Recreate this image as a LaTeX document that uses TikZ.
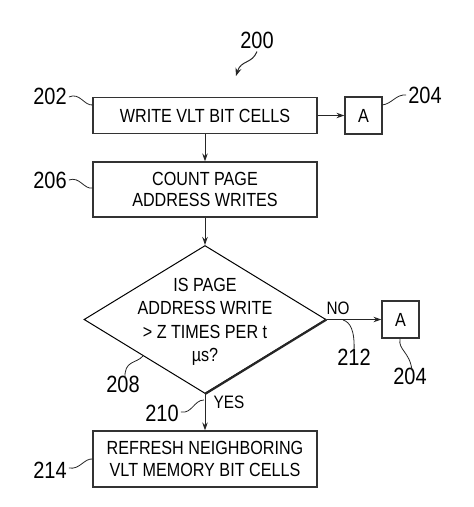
\documentclass[tikz,border=0pt]{standalone}
\usepackage{fontspec}
\setmainfont[FakeStretch=0.85]{Liberation Sans}
\usetikzlibrary{shapes.geometric,arrows.meta}
\begin{document}
\begin{tikzpicture}[x=1pt,y=-1pt,
  box/.style={draw=black!80, line width=1.2pt, inner sep=0pt, align=center,
    font=\fontsize{19}{21.5}\selectfont},
  refnum/.style={inner sep=0pt, font=\fontsize{23.5}{25}\selectfont},
  yn/.style={inner sep=0pt, font=\fontsize{18}{20}\selectfont},
  conn/.style={line width=1pt, draw=black!85, -{Stealth[length=8pt,width=5.5pt]}},
  lead/.style={line width=0.8pt, draw=black!85}]
\useasboundingbox (0,0) rectangle (474,507);
% boxes
\node[box, minimum width=224pt, minimum height=36pt] (b202) at (205,115.5) {WRITE VLT BIT CELLS};
\node[box, minimum width=37pt, minimum height=37pt] (a1) at (363.5,115.5) {A};
\node[box, minimum width=224pt, minimum height=55pt] (b206) at (205,189.5) {COUNT PAGE\\ADDRESS WRITES};
\node[draw=black, line width=1pt, diamond, minimum width=242pt, minimum height=148pt, inner sep=0pt] (d208) at (205,319.5) {};
\draw[line width=2.2pt, black!85] (d208.east) -- (d208.south);
\node[align=center, inner sep=0pt, font=\fontsize{19}{23.5}\selectfont] (dt) at (205,322) {IS PAGE\\ADDRESS WRITE\\> Z TIMES PER t\\µs?};
\node[box, minimum width=37pt, minimum height=37pt] (a2) at (400.5,319.5) {A};
\node[box, minimum width=224pt, minimum height=56pt] (b214) at (205,459) {REFRESH NEIGHBORING\\VLT MEMORY BIT CELLS};
% connectors
\draw[conn] (b202.east) -- (a1.west);
\draw[conn] (b202.south) -- (b206.north);
\draw[conn] (b206.south) -- (d208.north);
\draw[conn] (d208.east) -- (a2.west);
\draw[conn] (d208.south) -- (b214.north);
% yes / no
\node[yn] (no) at (338,308) {NO};
\node[yn] (yes) at (229,402) {YES};
% reference numerals
\node[refnum] (l200) at (257,40) {200};
\node[refnum] (l202) at (50,96) {202};
\node[refnum] (l204a) at (425,95) {204};
\node[refnum] (l206) at (50,180) {206};
\node[refnum] (l208) at (123,384) {208};
\node[refnum] (l210) at (162,413) {210};
\node[refnum] (l212) at (354,357) {212};
\node[refnum] (l204b) at (410,376) {204};
\node[refnum] (l214) at (50,470) {214};
% leader coordinates
\coordinate (c200) at (236,76);
\coordinate (c202) at (93,105);
\coordinate (c204a) at (382,105);
\coordinate (c206) at (93,188);
\coordinate (c208) at (143,356);
\coordinate (c210) at (204,400);
\coordinate (c212) at (343,320);
\coordinate (c204b) at (400,339);
\coordinate (c214) at (93,459);
% leaders
\draw[line width=1pt, draw=black!85, -{Stealth[length=8pt,width=6pt]}] (l200.south) ++(0,3) .. controls (252,64) and (241,60) .. (c200);
\draw[lead] (l202.east) ++(2,1) .. controls (80,92) and (84,106) .. (c202);
\draw[lead] (c204a) .. controls (392,104) and (396,94) .. ([xshift=-2pt]l204a.west);
\draw[lead] (l206.east) ++(2,0) .. controls (80,176) and (84,190) .. (c206);
\draw[lead] ([xshift=2pt,yshift=-3pt]l208.north) .. controls (124,360) and (136,364) .. (c208);
\draw[lead] (l210.east) ++(2,-1) .. controls (192,414) and (194,400) .. (c210);
\draw[lead] (c212) .. controls (350,322) and (355,330) .. ([yshift=-3pt]l212.north);
\draw[lead] (c204b) .. controls (398,350) and (410,352) .. ([yshift=-3pt,xshift=2pt]l204b.north);
\draw[lead] (l214.east) ++(2,-2) .. controls (80,470) and (84,458) .. (c214);
\end{tikzpicture}
\end{document}
